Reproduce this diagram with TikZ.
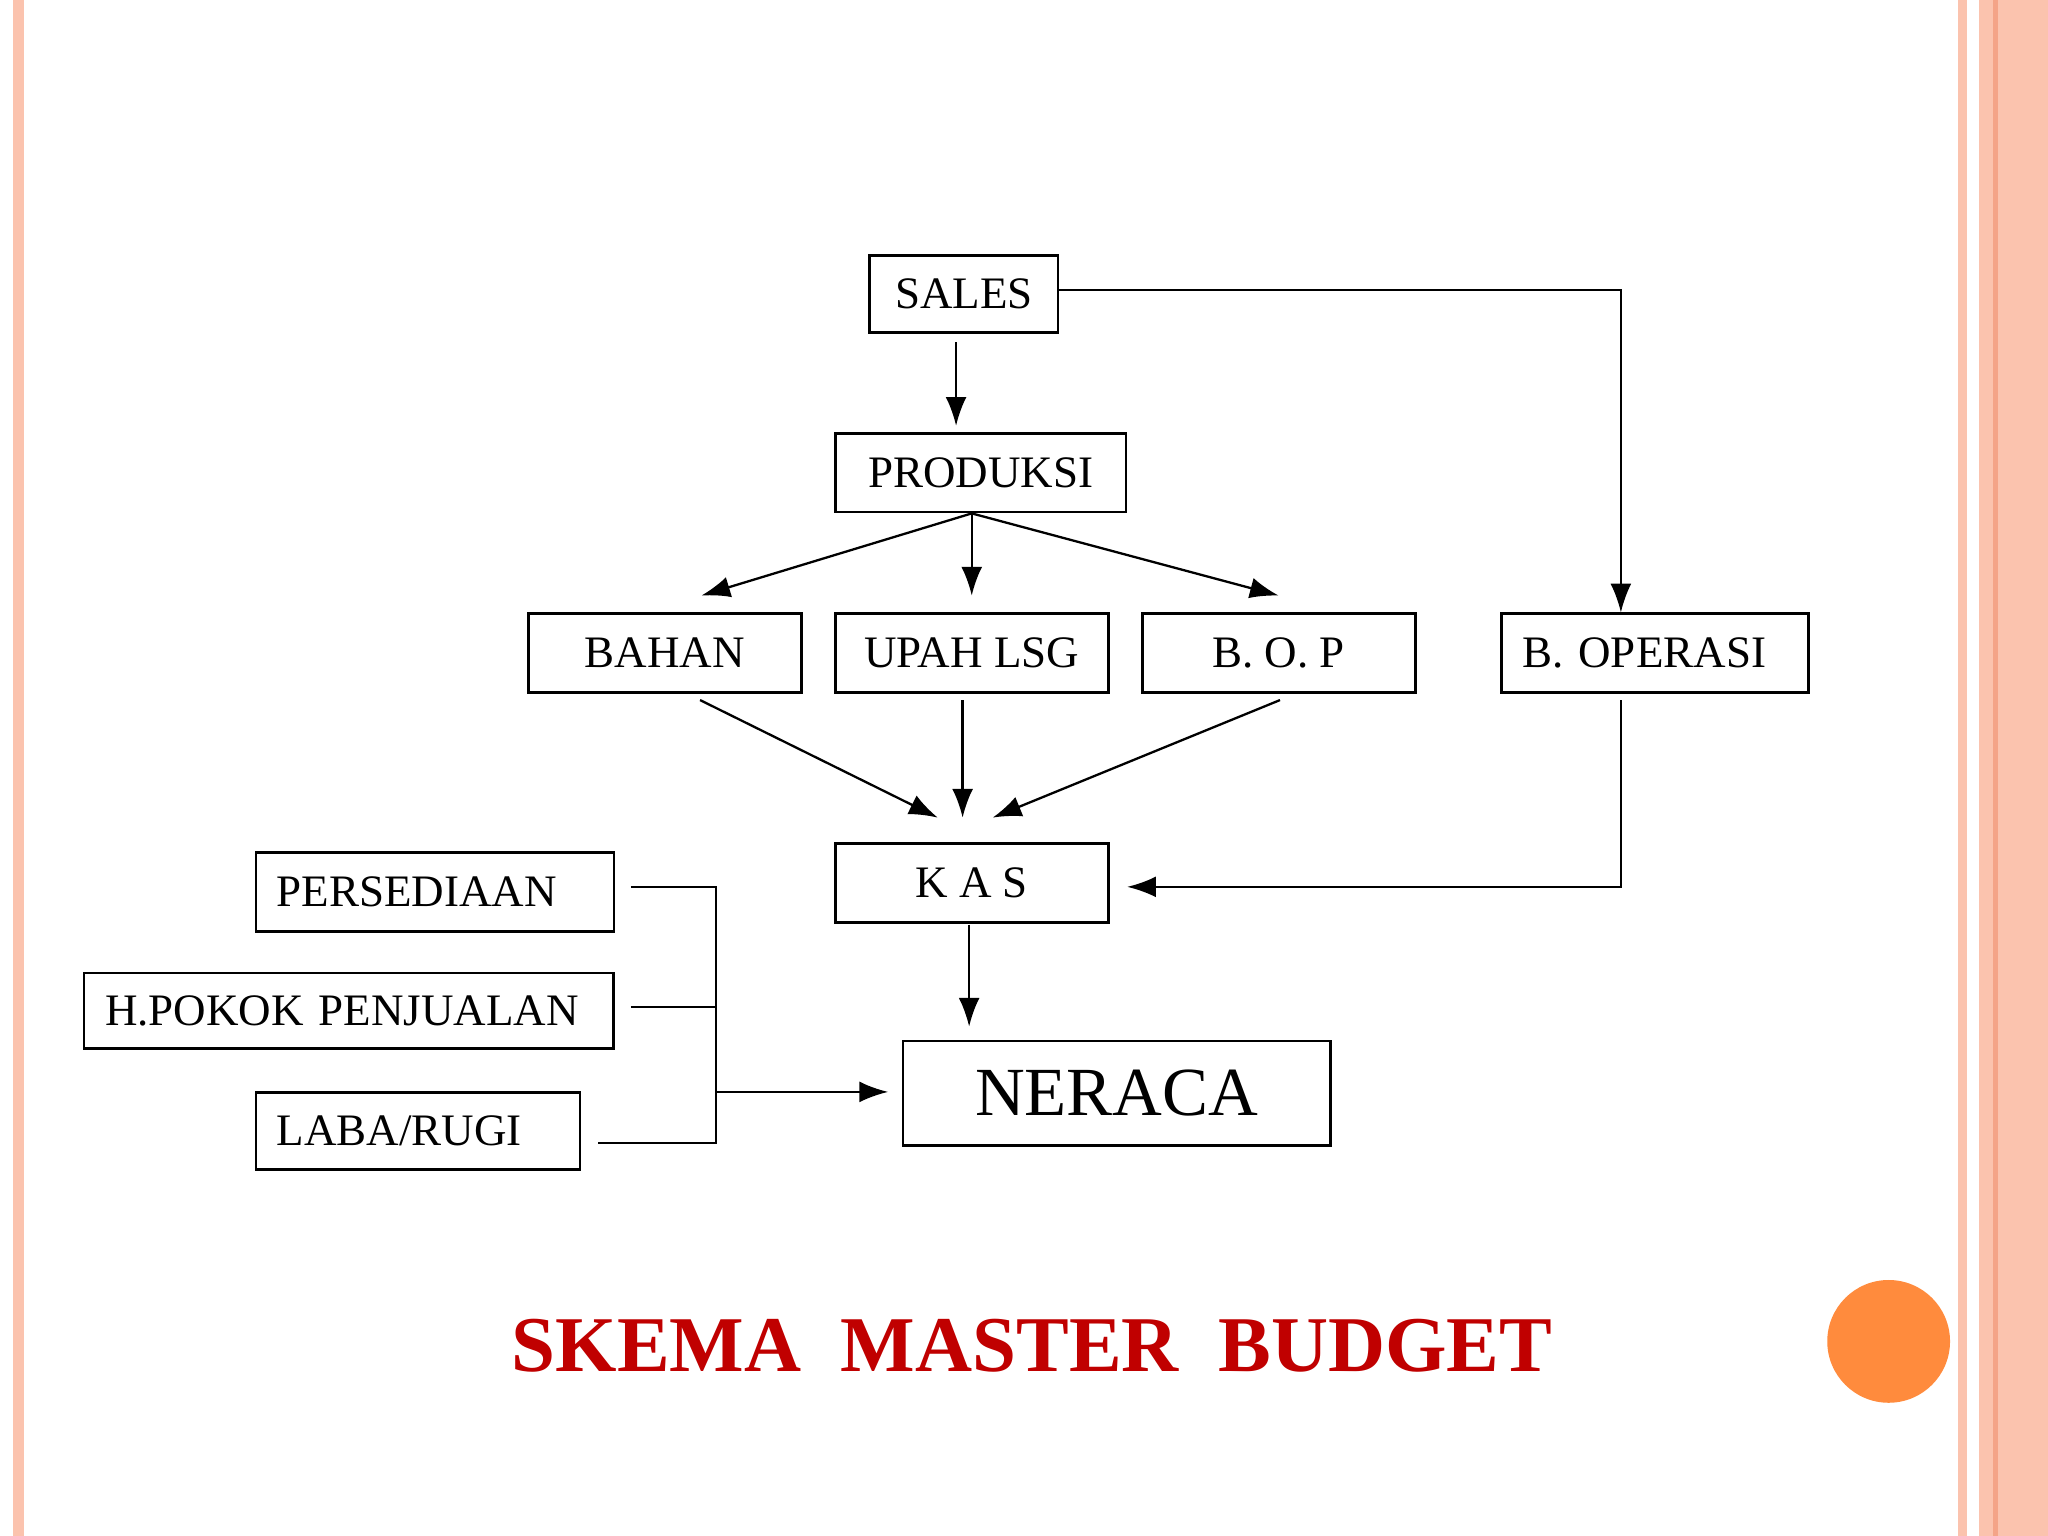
\documentclass[tikz,border=0pt]{standalone}
\usepackage{fontspec}
\setmainfont{Liberation Serif}
\usetikzlibrary{arrows.meta}
\usetikzlibrary{positioning}
\definecolor{skred}{HTML}{C00000}
\definecolor{skorange}{HTML}{FF8B3D}
\definecolor{skpink}{HTML}{FBC3AE}
\definecolor{skline}{HTML}{F4A488}
\tikzset{
  kotak/.style={rectangle, draw, line width=0.6pt, inner sep=0pt, font=\fontsize{9.8}{12}\selectfont},
  kiri/.style={kotak, align=left, inner xsep=0.16cm, text width=#1},
  panah/.style={-{Latex[length=2.2mm,width=1.6mm]}, line width=0.5pt},
  garis/.style={line width=0.5pt}
}
\begin{document}
\begin{tikzpicture}[x=0.01cm, y=-0.01cm]
        \useasboundingbox (0,0) rectangle (1568,1176);
        \fill[white] (0,0) rectangle (1568,1176);
        % bingkai
        \fill[skpink] (10,0) rectangle (18,1176);
        \fill[skpink] (1499,0) rectangle (1506,1176);
        \fill[skpink] (1515,0) rectangle (1568,1176);
        \draw[skline, line width=1pt] (1528,0) -- (1528,1176);
        \fill[skorange] (1446,1027) circle (47);

        \node[kotak, minimum width=1.44cm, minimum height=0.59cm] (sales) at (738,225) {SALES};
        \node[kotak, minimum width=2.22cm, minimum height=0.60cm] (produksi) at (751,362) {PRODUKSI};
        \node[kotak, minimum width=2.09cm, minimum height=0.60cm] (bahan) at (509,500) {BAHAN};
        \node[kotak, minimum width=2.09cm, minimum height=0.60cm] (upah) at (744,500) {UPAH LSG};
        \node[kotak, minimum width=2.09cm, minimum height=0.60cm] (bop) at (979,500) {B. O. P};
        \node[kiri=2.03cm, minimum height=0.60cm] (boperasi) at (1267,500) {B. OPERASI};
        \node[kotak, minimum width=2.09cm, minimum height=0.60cm] (kas) at (744,676) {K A S};
        \node[kotak, minimum width=3.27cm, minimum height=0.80cm, font=\fontsize{15}{17}\selectfont] (neraca) at (855,837) {NERACA};
        \node[kiri=2.42cm, minimum height=0.60cm] (persediaan) at (333,683) {PERSEDIAAN};
        \node[kiri=3.73cm, minimum height=0.58cm] (hpokok) at (267,774) {H.POKOK PENJUALAN};
        \node[kiri=2.16cm, minimum height=0.59cm] (labarugi) at (320,866) {LABA/RUGI};
        \node[text=skred, font=\fontsize{17.2}{20}\selectfont\bfseries] (judul) at (790,1030) {SKEMA~~MASTER~~BUDGET};

        \coordinate (kanan) at (1241,222);
        \coordinate (bawah) at (1241,679);
        \coordinate (sambung) at (548,836);

        \draw[panah] (732,262) -- (732,326);
        \draw[panah] (produksi.south) ++(-7,0) -- (537,456);
        \draw[panah] (produksi.south) ++(-7,0) -- (744,456);
        \draw[panah] (produksi.south) ++(-7,0) -- (979,456);
        \draw[panah] (536,536) -- (718,626);
        \draw[panah] (737,536) -- (737,626);
        \draw[panah] (980,536) -- (760,626);
        \draw[panah] (sales.east |- kanan) -- (kanan) -- (boperasi.north -| kanan);
        \draw[panah] (1241,536) -- (bawah) -- (863,679);
        \draw[panah] (742,708) -- (742,786);
        \draw[garis] (483,679) -- (548,679) -- (548,875) -- (458,875);
        \draw[garis] (483,771) -- (548,771);
        \draw[panah] (sambung) -- (680,836);
    \end{tikzpicture}
\end{document}
